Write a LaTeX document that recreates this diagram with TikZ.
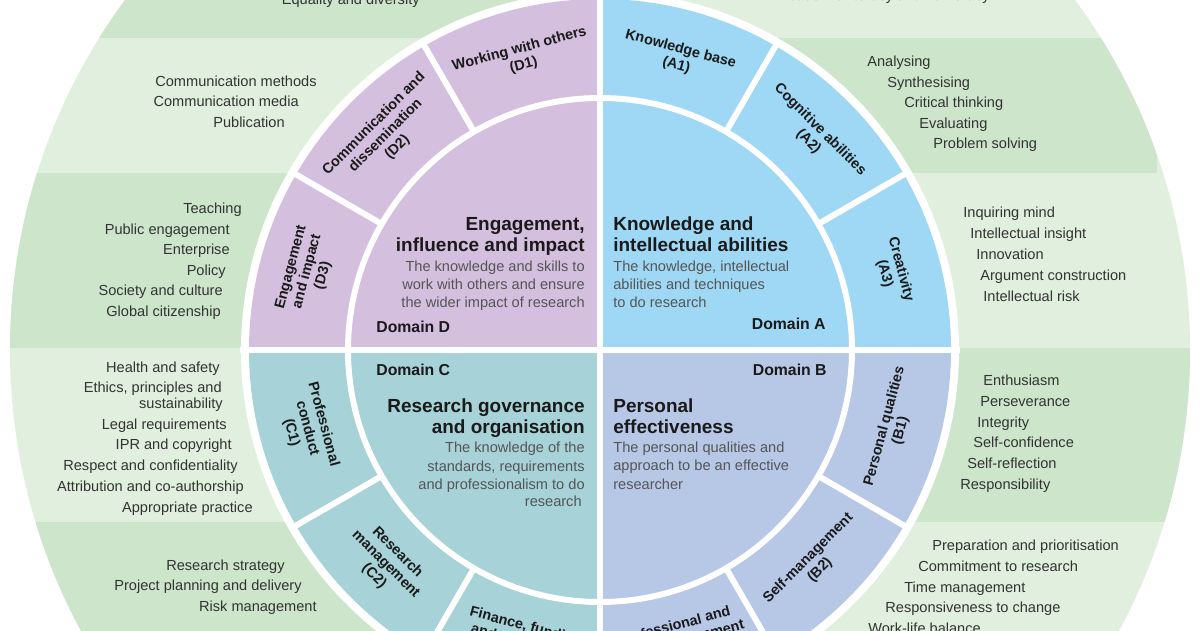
\documentclass[tikz,border=0pt]{standalone}
\usepackage{fontspec}
\setmainfont{Liberation Sans}
\usetikzlibrary{calc}
\definecolor{glight}{HTML}{E1EFDE}
\definecolor{gdark}{HTML}{CDE5CB}
\definecolor{colA}{HTML}{9FD8F4}
\definecolor{colB}{HTML}{B7C7E6}
\definecolor{colC}{HTML}{A6D2D8}
\definecolor{colD}{HTML}{D5BFDE}
\definecolor{itemtxt}{HTML}{333333}
\definecolor{bodytxt}{HTML}{555555}
\definecolor{titletxt}{HTML}{1A1A1A}
\tikzset{
  item/.style={font=\fontsize{8.3}{9}\selectfont, text=itemtxt, inner sep=0pt, text height=1.6ex, text depth=0.4ex},
  body/.style={font=\fontsize{8.3}{9}\selectfont, text=bodytxt, inner sep=0pt, text height=1.6ex, text depth=0.4ex},
  ttl/.style={font=\fontsize{10.8}{11}\bfseries\selectfont, text=titletxt, inner sep=0pt, text height=1.6ex, text depth=0.4ex},
  dom/.style={font=\fontsize{9}{10}\bfseries\selectfont, text=titletxt, inner sep=0pt},
  ring/.style={font=\fontsize{8.2}{9.4}\bfseries\selectfont, text=titletxt, align=center, inner sep=0pt},
  sep/.style={white, line width=3.4pt}
}
\newcommand\itW[4]{\node[item,anchor=west] (#1) at (#2,#3) {#4};}
\newcommand\itE[4]{\node[item,anchor=east] (#1) at (#2,#3) {#4};}
\begin{document}
\begin{tikzpicture}[x=0.02cm,y=0.02cm]
\useasboundingbox (0,0) rectangle (1200,630);
\clip (0,0) rectangle (1200,630);
\fill[white] (0,0) rectangle (1200,630);
\coordinate (C) at (600,280);
\fill[glight] (C) circle[radius=590];
\begin{scope}
\clip (C) circle[radius=590];
\fill[gdark] (100,592) rectangle (600,700);
\fill[gdark] (0,282) rectangle (600,457);
\fill[gdark] (36,-20) rectangle (600,108);
\fill[gdark] (600,457) rectangle (1157,592);
\fill[gdark] (600,108) rectangle (1190,282);
\end{scope}
\fill[white] (C) circle[radius=359];
\fill[colA] (C) -- ++(0:351) arc[start angle=0,end angle=90,radius=351] -- cycle;
\fill[colD] (C) -- ++(90:351) arc[start angle=90,end angle=180,radius=351] -- cycle;
\fill[colC] (C) -- ++(180:351) arc[start angle=180,end angle=270,radius=351] -- cycle;
\fill[colB] (C) -- ++(270:351) arc[start angle=270,end angle=360,radius=351] -- cycle;
\draw[sep] (C) circle[radius=252];
\foreach \a in {30,60,120,150,210,240,300,330}
  \draw[sep] ($(C)+(\a:250)$) -- ($(C)+(\a:356)$);
\draw[sep] (240,280) -- (960,280);
\draw[sep] (600,-80) -- (600,640);
\node[ring,rotate=-15] (a1) at ($(C)+(75:303)$) {Knowledge base\\(A1)};
\node[ring,rotate=-45] (a2) at ($(C)+(45:303)$) {Cognitive abilities\\(A2)};
\node[ring,rotate=-75] (a3) at ($(C)+(15:303)$) {Creativity\\(A3)};
\node[ring,rotate=75] (b1) at ($(C)+(-15:303)$) {Personal qualities\\(B1)};
\node[ring,rotate=45] (b2) at ($(C)+(-45:303)$) {Self-management\\(B2)};
\node[ring,rotate=15] (b3) at ($(C)+(-75:303)$) {Professional and\\career development\\(B3)};
\node[ring,rotate=-15] (c3) at ($(C)+(255:303)$) {Finance, funding\\and resourcing\\(C3)};
\node[ring,rotate=-45] (c2) at ($(C)+(225:303)$) {Research\\management\\(C2)};
\node[ring,rotate=-75] (c1) at ($(C)+(195:303)$) {Professional\\conduct\\(C1)};
\node[ring,rotate=75] (d3) at ($(C)+(165:303)$) {Engagement\\and impact\\(D3)};
\node[ring,rotate=45] (d2) at ($(C)+(135:303)$) {Communication and\\dissemination\\(D2)};
\node[ring,rotate=15] (d1) at ($(C)+(105:303)$) {Working with others\\(D1)};
\begin{scope}[shift={(0,630)},yscale=-1]
\node[ttl,anchor=east] (dt1) at (585,225) {Engagement,};
\node[ttl,anchor=east] (dt2) at (585,246) {influence and impact};
\node[body,anchor=east] (db1) at (585,266) {The knowledge and skills to};
\node[body,anchor=east] (db2) at (585,284) {work with others and ensure};
\node[body,anchor=east] (db3) at (585,302) {the wider impact of research};
\node[dom,anchor=west] (dd) at (376,327) {Domain D};
\node[ttl,anchor=west] (at1) at (613,225) {Knowledge and};
\node[ttl,anchor=west] (at2) at (613,246) {intellectual abilities};
\node[body,anchor=west] (ab1) at (613,266) {The knowledge, intellectual};
\node[body,anchor=west] (ab2) at (613,284) {abilities and techniques};
\node[body,anchor=west] (ab3) at (613,302) {to do research};
\node[dom,anchor=east] (ad) at (826,324) {Domain A};
\node[dom,anchor=west] (cd) at (376,370) {Domain C};
\node[ttl,anchor=east] (ct1) at (585,407) {Research governance};
\node[ttl,anchor=east] (ct2) at (585,428) {and organisation};
\node[body,anchor=east] (cb1) at (585,447) {The knowledge of the};
\node[body,anchor=east] (cb2) at (585,466) {standards, requirements};
\node[body,anchor=east] (cb3) at (585,484) {and professionalism to do};
\node[body,anchor=east] (cb4) at (582,501) {research};
\node[dom,anchor=east] (bd) at (827,370) {Domain B};
\node[ttl,anchor=west] (bt1) at (613,407) {Personal};
\node[ttl,anchor=west] (bt2) at (613,428) {effectiveness};
\node[body,anchor=west] (bb1) at (613,447) {The personal qualities and};
\node[body,anchor=west] (bb2) at (613,465) {approach to be an effective};
\node[body,anchor=west] (bb3) at (613,484) {researcher};
\itE{i01}{420}{-1}{Equality and diversity}
\itE{i02}{317}{81}{Communication methods}
\itE{i03}{299}{101}{Communication media}
\itE{i04}{285}{122}{Publication}
\itE{i05}{242}{208}{Teaching}
\itE{i06}{230}{229}{Public engagement}
\itE{i07}{230}{249}{Enterprise}
\itE{i08}{226}{270}{Policy}
\itE{i09}{223}{290}{Society and culture}
\itE{i10}{221}{311}{Global citizenship}
\itE{i11}{220}{367}{Health and safety}
\itE{i12}{222}{387}{Ethics, principles and}
\itE{i13}{223}{403}{sustainability}
\itE{i14}{227}{424}{Legal requirements}
\itE{i15}{232}{444}{IPR and copyright}
\itE{i16}{238}{465}{Respect and confidentiality}
\itE{i17}{244}{486}{Attribution and co-authorship}
\itE{i18}{253}{507}{Appropriate practice}
\itE{i19}{285}{565}{Research strategy}
\itE{i20}{302}{585}{Project planning and delivery}
\itE{i21}{317}{606}{Risk management}
\itE{j00}{990}{-5}{Academic literacy and numeracy}
\itW{j01}{867}{61}{Analysing}
\itW{j02}{887}{82}{Synthesising}
\itW{j03}{904}{102}{Critical thinking}
\itW{j04}{919}{123}{Evaluating}
\itW{j05}{933}{143}{Problem solving}
\itW{j06}{963}{212}{Inquiring mind}
\itW{j07}{970}{233}{Intellectual insight}
\itW{j08}{976}{254}{Innovation}
\itW{j09}{980}{275}{Argument construction}
\itW{j10}{983}{296}{Intellectual risk}
\itW{j11}{983}{380}{Enthusiasm}
\itW{j12}{980}{401}{Perseverance}
\itW{j13}{977}{422}{Integrity}
\itW{j14}{973}{442}{Self-confidence}
\itW{j15}{967}{463}{Self-reflection}
\itW{j16}{960}{484}{Responsibility}
\itW{j17}{932}{545}{Preparation and prioritisation}
\itW{j18}{918}{566}{Commitment to research}
\itW{j19}{904}{587}{Time management}
\itW{j20}{885}{607}{Responsiveness to change}
\itW{j21}{868}{628}{Work-life balance}
\end{scope}
\end{tikzpicture}
\end{document}
